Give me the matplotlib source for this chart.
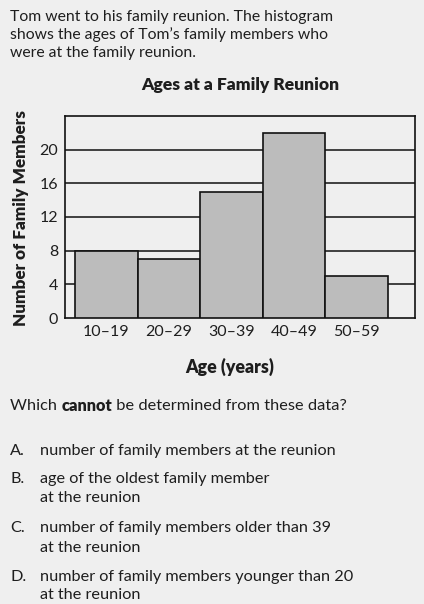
import matplotlib
matplotlib.use("Agg")
import matplotlib.pyplot as plt

# data
age_groups = ["10\u201319", "20\u201329", "30\u201339", "40\u201349", "50\u201359"]
counts = [8, 7, 15, 22, 5]
y_ticks = [0, 4, 8, 12, 16, 20]

intro = ["Tom went to his family reunion. The histogram",
         "shows the ages of Tom\u2019s family members who",
         "were at the family reunion."]
options = [("A.", ["number of family members at the reunion"]),
           ("B.", ["age of the oldest family member", "at the reunion"]),
           ("C.", ["number of family members older than 39", "at the reunion"]),
           ("D.", ["number of family members younger than 20", "at the reunion"])]

W, H = 424, 604
bg = "#efefef"
ink = "#1e1e1e"
fs = 11.5
plt.rcParams["font.family"] = ["Lato", "DejaVu Sans"]

fig = plt.figure(figsize=(W / 100, H / 100), dpi=100, facecolor=bg)


def px(x, y):
    # pixel coords (top-left origin) to figure fraction
    return x / W, 1 - y / H


# intro text
for i, line in enumerate(intro):
    fig.text(*px(10, 17 + i * 18), line, fontsize=fs - 0.2, color=ink, va="center")

fig.text(*px(240, 85), "Ages at a Family Reunion", fontsize=12.6,
         fontweight="heavy", color=ink, ha="center", va="center")

# histogram
ax = fig.add_axes([65 / W, 1 - 318 / H, 350 / W, 202 / H])
ax.set_facecolor(bg)
x = list(range(len(counts)))
ax.bar(x, counts, width=1.0, color="#bcbcbc", edgecolor="#111111",
       linewidth=1.2, zorder=3)
ax.set_xlim(-0.66, 4.94)
ax.set_ylim(0, 24)
ax.set_yticks(y_ticks)
ax.set_yticklabels([str(v) for v in y_ticks], fontsize=11.5, color=ink)
ax.set_xticks(x)
ax.set_xticklabels(age_groups, fontsize=11.5, color=ink)
ax.tick_params(length=0, pad=5)
for v in y_ticks[1:]:
    ax.axhline(v, color="#111111", linewidth=1.1, zorder=1)
for s in ax.spines.values():
    s.set_color("#111111")
    s.set_linewidth(1.2)

fig.text(*px(21, 218), "Number of Family Members", fontsize=12.3,
         fontweight="heavy", color=ink, rotation=90, ha="center", va="center")
fig.text(*px(230, 367), "Age (years)", fontsize=12.8, fontweight="heavy",
         color=ink, ha="center", va="center")

# question with bold word
renderer = fig.canvas.get_renderer()
qx, qy = px(10, 406)
parts = [("Which ", "normal"), ("cannot", "heavy"), (" be determined from these data?", "normal")]
for txt, wt in parts:
    t = fig.text(qx, qy, txt, fontsize=11.8, fontweight=wt, color=ink, va="center")
    bb = t.get_window_extent(renderer)
    qx += bb.width / W

ys = [[451], [479, 498], [528, 548], [577, 595]]
for (letter, lines), yl in zip(options, ys):
    fig.text(*px(10, yl[0]), letter, fontsize=fs + 0.2, color=ink, va="center")
    for line, yy in zip(lines, yl):
        fig.text(*px(40, yy), line, fontsize=fs + 0.2, color=ink, va="center")

fig.savefig("out.png", dpi=100, facecolor=bg)
